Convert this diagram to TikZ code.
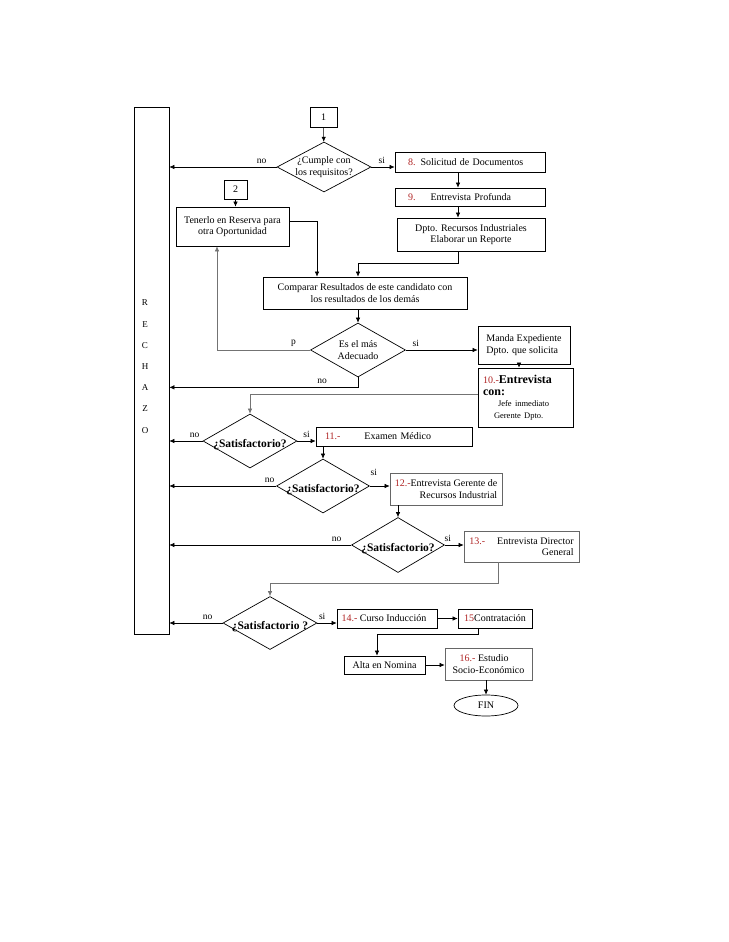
\documentclass[tikz,border=0pt]{standalone}
\usepackage{fontspec}
\setmainfont{Liberation Serif}
\usetikzlibrary{shapes.geometric,arrows.meta}
\definecolor{numred}{RGB}{175,35,35}
\newcommand{\paso}[1]{{\color{numred}#1}}
\tikzset{
  box/.style={draw, rectangle, line width=0.7pt, inner sep=2pt, align=center,
    font=\fontsize{10}{11.5}\selectfont},
  decision/.style={draw, diamond, line width=0.7pt, inner sep=0pt},
  dtext/.style={align=center, inner sep=0pt, font=\fontsize{10}{11.5}\selectfont},
  stext/.style={align=center, inner sep=0pt, yshift=-4pt, font=\bfseries\fontsize{11.5}{13}\selectfont},
  flecha/.style={line width=0.6pt, -{Latex[length=5pt,width=4.5pt]}},
  tenue/.style={draw=black!55},
  lbl/.style={above, inner sep=3pt, font=\fontsize{9.5}{10}\selectfont},
}
\begin{document}
\begin{tikzpicture}[x=1pt, y=-1pt]
    \useasboundingbox (0,0) rectangle (728,942);
    % columna de rechazo
    \node[box, minimum width=35pt, minimum height=527pt] (rech) at (151.5,370.5) {};
    \node[font=\fontsize{9}{21.2}\selectfont, align=center] (letras) at (145,366.5) {R\\E\\C\\H\\A\\Z\\O};

    \node[box, minimum width=27pt, minimum height=20pt] (uno) at (323.5,117) {1};
    \node[decision, minimum width=94pt, minimum height=50pt,
      label={[dtext]center:¿Cumple con\\los requisitos?}] (cumple) at (324,167) {};
    \node[box, minimum width=150pt, minimum height=20pt, text width=146pt, align=left] (solicitud) at (470,162)
      {\hspace*{11pt}\paso{8.}\hspace{5pt}Solicitud de Documentos};
    \node[box, minimum width=150pt, minimum height=18pt, text width=146pt, align=left] (profunda) at (470,197)
      {\hspace*{11pt}\paso{9.}\hspace{15pt}Entrevista Profunda};
    \node[box, minimum width=148pt, minimum height=33pt] (dpto) at (471,234.5)
      {Dpto. Recursos Industriales\\Elaborar un Reporte};
    \node[box, minimum width=23pt, minimum height=19pt] (dos) at (235.5,189.5) {2};
    \node[box, minimum width=113pt, minimum height=39pt] (reserva) at (232.5,226.5)
      {Tenerlo en Reserva para\\otra Oportunidad};
    \node[box, minimum width=204pt, minimum height=32pt] (comparar) at (365,293)
      {Comparar Resultados de este candidato con\\los resultados de los demás};
    \node[decision, minimum width=95pt, minimum height=54pt,
      label={[dtext]center:Es el más\\Adecuado}] (adecuado) at (358,350) {};
    \node[box, minimum width=92pt, minimum height=38pt, align=left] (manda) at (524,345)
      {Manda Expediente\\Dpto. que solicita};
    \node[box, minimum width=95pt, minimum height=59pt, text width=85pt, align=left] (jefe) at (525.5,397.5)
      {\paso{10.-}\textbf{\fontsize{12}{13}\selectfont Entrevista}\\
       \textbf{\fontsize{12}{13}\selectfont con:}\\
       \hspace*{15pt}{\fontsize{8.5}{9}\selectfont Jefe inmediato}\\
       \hspace*{11pt}{\fontsize{8.5}{9}\selectfont Gerente Dpto.}};

    \node[decision, minimum width=94pt, minimum height=54pt,
      label={[stext]center:¿Satisfactorio?}] (sat1) at (250,441) {};
    \node[box, minimum width=156pt, minimum height=19pt, text width=152pt, align=left] (medico) at (394,436.5)
      {\hspace*{7pt}\paso{11.-}\hspace{24pt}Examen Médico};
    \node[decision, minimum width=93pt, minimum height=54pt,
      label={[stext]center:¿Satisfactorio?}] (sat2) at (323,486) {};
    \node[box, minimum width=112pt, minimum height=32pt, align=right, draw=black!60] (gerente) at (446,489)
      {\paso{12.-}Entrevista Gerente de\\Recursos Industrial};
    \node[decision, minimum width=93pt, minimum height=55pt,
      label={[stext]center:¿Satisfactorio?}] (sat3) at (398,545) {};
    \node[box, minimum width=115pt, minimum height=31pt, align=right, draw=black!60] (director) at (521.5,546.5)
      {\paso{13.-}\hspace{12pt}Entrevista Director\\General};
    \node[decision, minimum width=94pt, minimum height=53pt,
      label={[stext]center:¿Satisfactorio ?}] (sat4) at (270,623) {};
    \node[box, minimum width=100pt, minimum height=19pt] (curso) at (387,618.5)
      {\paso{14.-} Curso Inducción\hspace{6pt}};
    \node[box, minimum width=74pt, minimum height=19pt] (contrata) at (495,618.5)
      {\paso{15}Contratación};
    \node[box, minimum width=81pt, minimum height=18pt] (alta) at (384.5,665) {Alta en Nomina};
    \node[box, minimum width=87pt, minimum height=32pt, align=left, draw=black!60] (estudio) at (488.5,664)
      {\hspace*{7pt}\paso{16.-} Estudio\\Socio-Económico};
    \node[draw, ellipse, line width=0.7pt, minimum width=64pt, minimum height=21pt, inner sep=0pt,
      font=\fontsize{10}{11}\selectfont] (fin) at (486,705.5) {FIN};

    % conexiones
    \path [flecha] (uno) edge (cumple);
    \path [flecha] (cumple.west) edge node[lbl, pos=0.14]{no} (cumple.west -| rech.east);
    \path [flecha] (cumple.east) edge node[lbl, pos=0.45]{si} (cumple.east -| solicitud.west);
    \path [flecha] ([xshift=-12pt]solicitud.south) edge ([xshift=-12pt]solicitud.south |- profunda.north);
    \path [flecha] ([xshift=-12pt]profunda.south) edge ([xshift=-12pt]profunda.south |- dpto.north);
    \path [flecha] (dos) edge (dos |- reserva.north);
    \draw [flecha] ([yshift=5.5pt]reserva.east) -| ([xshift=-48pt]comparar.north);
    \draw [flecha] ([xshift=-13pt]dpto.south) -- ++(0,12) -| ([xshift=-7pt]comparar.north);
    \path [flecha] (adecuado.north |- comparar.south) edge (adecuado.north);
    \draw [flecha, tenue] (adecuado.west) -| node[lbl, pos=0.09, text=black]{p} ([xshift=-15.5pt]reserva.south);
    \path [flecha] (adecuado.east) edge node[lbl, pos=0.14]{si} (adecuado.east -| manda.west);
    \path [flecha] ([xshift=-5pt]manda.south) edge ([xshift=-5pt]manda.south |- jefe.north);
    \draw [flecha] (adecuado.south) -- ++(0,10) coordinate (bajo) -- node[lbl, pos=0.19]{no} (bajo -| rech.east);
    \draw [flecha, tenue] ([yshift=3.5pt]jefe.west) -| (sat1.north);

    \path [flecha] (sat1.west) edge node[lbl, pos=0.24]{no} (sat1.west -| rech.east);
    \path [flecha] (sat1.east) edge node[lbl, pos=0.5]{si} (sat1.east -| medico.west);
    \path [flecha] (sat2.north |- medico.south) edge (sat2.north);
    \path [flecha] (sat2.west) edge node[lbl, pos=0.06]{no} (sat2.west -| rech.east);
    \path [flecha] (sat2.east) edge node[lbl, pos=0.2, yshift=7pt]{si} (sat2.east -| gerente.west);
    \path [flecha] (sat3.north |- gerente.south) edge (sat3.north);
    \path [flecha] (sat3.west) edge node[lbl, pos=0.08]{no} (sat3.west -| rech.east);
    \path [flecha] (sat3.east) edge node[lbl, pos=0.16]{si} (sat3.east -| director.west);
    \draw [flecha, tenue] ([xshift=-23.5pt]director.south) -- ++(0,21) -| (sat4.north);
    \path [flecha] (sat4.west) edge node[lbl, pos=0.28]{no} (sat4.west -| rech.east);
    \path [flecha] (sat4.east) edge node[lbl, pos=0.25]{si} (sat4.east -| curso.west);
    \path [flecha] (curso.east) edge (curso.east -| contrata.west);
    \draw [flecha] ([xshift=-17pt]contrata.south) -- ++(0,6) -| ([xshift=-7.5pt]alta.north);
    \path [flecha] (alta.east) edge (alta.east -| estudio.west);
    \path [flecha] (fin.north |- estudio.south) edge (fin.north);
\end{tikzpicture}
\end{document}
